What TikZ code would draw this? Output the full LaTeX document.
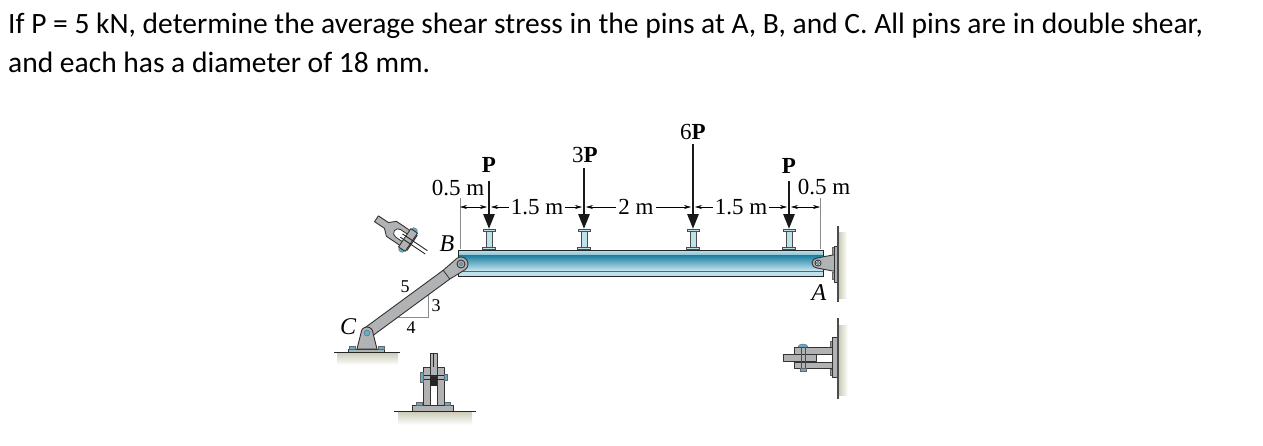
\documentclass[tikz,border=0pt]{standalone}
\usepackage{fontspec}
\usepackage{tikz}
\usetikzlibrary{arrows.meta}
\setmainfont{Liberation Serif}
\newfontfamily\titlefont{Carlito}
\definecolor{steelgray}{RGB}{176,178,180}
\definecolor{pinblue}{RGB}{95,175,210}
\definecolor{beamdark}{RGB}{25,125,160}
\definecolor{beamlight}{RGB}{190,225,236}
\definecolor{shadowtan}{RGB}{205,205,185}
\tikzset{
    lbl/.style={font=\fontsize{23}{23}\selectfont, inner sep=0pt},
    loadarrow/.style={line width=2.8pt, -{Triangle[length=15pt,width=11pt]}, black!90},
    dimline/.style={line width=0.5pt, {Stealth[length=7pt,width=4pt]}-{Stealth[length=7pt,width=4pt]}},
    dimhalf/.style={line width=0.5pt, -{Stealth[length=7pt,width=4pt]}},
    extline/.style={line width=0.6pt, black!45},
    steelpart/.style={draw=black!80, fill=steelgray, line width=0.9pt, line join=round},
    bluepart/.style={draw=black!60, fill=pinblue, line width=0.4pt},
}
\begin{document}
\begin{tikzpicture}[x=1pt,y=-1pt]
    \useasboundingbox (0,0) rectangle (1263,445);
    % problem statement
    \node[anchor=base west, inner sep=0pt, font=\fontsize{29.5}{29.5}\titlefont] (line1) at (8,33)
        {If P = 5 kN, determine the average shear stress in the pins at A, B, and C. All pins are in double shear,};
    \node[anchor=base west, inner sep=0pt, font=\fontsize{29.5}{29.5}\titlefont] (line2) at (8,72)
        {and each has a diameter of 18 mm.};
    % ground and wall shadows
    \shade[top color=shadowtan, bottom color=white] (337,353) rectangle (398,365);
    \shade[top color=shadowtan, bottom color=white] (398,412) rectangle (472,425);
    \shade[left color=shadowtan, right color=white] (839,232) rectangle (847,298);
    \shade[left color=shadowtan, right color=white] (839,325) rectangle (848,395);
    % beam
    \shade[top color=beamlight, bottom color=beamlight!70!beamdark] (458,250) rectangle (823,255);
    \shade[top color=beamdark, bottom color=beamlight] (458,255) rectangle (823,270);
    \fill[beamlight] (458,271) rectangle (823,276);
    \draw[beamdark, line width=0.6pt] (458,271) -- (823,271);
    \draw[black!85, line width=1pt] (458,250) rectangle (823,276);
    % I sections and loads
    \foreach \xpos/\ytop/\name in {489/181/Pa, 584/168/Pb, 693/144/Pc, 789/181/Pd} {
        \filldraw[fill=beamlight, draw=black!70, line width=0.7pt]
            (\xpos-3,231.5) rectangle (\xpos+3,247)
            (\xpos-6,229) rectangle (\xpos+6,231.5)
            (\xpos-6.5,247) rectangle (\xpos+6.5,249.5);
        \coordinate (\name) at (\xpos,207);
        \draw[loadarrow] (\xpos,\ytop) -- (\xpos,229);
    }
    \node[lbl, font=\fontsize{23}{23}\selectfont\bfseries] (loadA) at (489,165) {P};
    \node[lbl] (loadB) at (585,155) {3\textbf{P}};
    \node[lbl] (loadC) at (693,132) {6\textbf{P}};
    \node[lbl, font=\fontsize{23}{23}\selectfont\bfseries] (loadD) at (789,166) {P};
    % dimensions
    \coordinate (extB) at (460,207);
    \coordinate (extA) at (820,207);
    \draw[extline] (460,198) -- (460,249);
    \draw[extline] (820,198) -- (820,249);
    \node[lbl] (dimE) at (458,188) {0.5 m};
    \node[lbl] (dimA) at (537,207) {1.5 m};
    \node[lbl] (dimB) at (636,207) {2 m};
    \node[lbl] (dimC) at (741,207) {1.5 m};
    \node[lbl] (dimD) at (824,187) {0.5 m};
    \draw[dimline] (extB) -- ([xshift=-2pt]Pa);
    \draw[dimhalf] ([xshift=-2pt]dimA.west) -- ([xshift=2pt]Pa);
    \draw[dimhalf] ([xshift=2pt]dimA.east) -- ([xshift=-2pt]Pb);
    \draw[dimhalf] ([xshift=-2pt]dimB.west) -- ([xshift=2pt]Pb);
    \draw[dimhalf] ([xshift=2pt]dimB.east) -- ([xshift=-2pt]Pc);
    \draw[dimhalf] ([xshift=-2pt]dimC.west) -- ([xshift=2pt]Pc);
    \draw[dimhalf] ([xshift=2pt]dimC.east) -- ([xshift=-2pt]Pd);
    \draw[dimline] ([xshift=2pt]Pd) -- (extA);
    % slope triangle and letters
    \draw[extline] (395,317) -- (428,317) -- (428,293);
    \node[lbl, font=\fontsize{18}{18}\selectfont] (five) at (405,287) {5};
    \node[lbl, font=\fontsize{18}{18}\selectfont] (three) at (436,306) {3};
    \node[lbl, font=\fontsize{18}{18}\selectfont] (four) at (411,328) {4};
    \node[lbl, font=\fontsize{24}{24}\selectfont\itshape] (nameC) at (348,327) {C};
    \node[lbl, font=\fontsize{24}{24}\selectfont\itshape] (nameB) at (447,244) {B};
    \node[lbl, font=\fontsize{24}{24}\selectfont\itshape] (nameA) at (819,293) {A};
    % strut CB
    \coordinate (pinC) at (367,333);
    \coordinate (pinB) at (461,264);
    \begin{scope}[shift={(pinB)}, rotate=36.3]
        \draw[steelpart] (-116,-5.5) -- (-18,-5.5) -- (0,-7) arc[start angle=-90, end angle=90, radius=7] -- (-18,5.5) -- (-116,5.5) -- cycle;
        \draw[black!80, line width=0.8pt] (-18,-5.5) -- (-18,5.5);
    \end{scope}
    \filldraw[steelpart] (pinB) circle (4);
    \filldraw[bluepart] (pinB) circle (1.8);
    % bracket at C
    \draw[steelpart] (348,349) rectangle (384,352);
    \filldraw[bluepart] (349,346) rectangle (355,349) (378,346) rectangle (384,349);
    \draw[steelpart] (357,349) -- (361,333) arc[start angle=180, end angle=360, radius=6] -- (377,349) -- cycle;
    \filldraw[bluepart] (pinC) circle (3);
    \draw[black!85, line width=1pt] (334,352.5) -- (400,352.5);
    % clevis detail above the strut
    \begin{scope}[shift={(408,240)}, rotate=-34]
        \draw[steelpart] (-38,-3.5) -- (-26,-3.5) -- (-20,-9) -- (5,-9) -- (5,9) -- (-20,9) -- (-26,3.5) -- (-38,3.5) -- cycle;
        \filldraw[fill=white, draw=black!80, line width=0.8pt] (5,-4.5) -- (-12,-4.5) arc[start angle=-90, end angle=-270, radius=4.5] -- (5,4.5) -- cycle;
        \filldraw[bluepart] (0,-12) ellipse (3 and 2) (0,12) ellipse (3 and 2);
        \draw[steelpart] (-4,-11) rectangle (4,11);
        \draw[black!85, line width=0.9pt] (-8,-2) -- (22,-2) (-8,2) -- (22,2);
    \end{scope}
    % clevis at the bottom
    \draw[steelpart] (412,405) rectangle (453,411);
    \filldraw[bluepart] (416,402) rectangle (422,405) (444,402) rectangle (450,405);
    \draw[steelpart] (423,367) rectangle (430,405);
    \draw[steelpart] (437,367) rectangle (444,405);
    \fill[black!85] (430,376) rectangle (437,386);
    \draw[steelpart] (430,353) rectangle (437,376);
    \draw[black!85, line width=0.7pt] (433.5,353) -- (433.5,367) (423,375) -- (444,375) (423,379) -- (444,379);
    \filldraw[bluepart] (420,372) rectangle (423,382) (444,374) rectangle (447,380);
    \draw[black!85, line width=1pt] (394,411) -- (476,411);
    % bracket at A
    \draw[steelpart] (838,254) -- (817,258) arc[start angle=-90, end angle=-270, radius=5] -- (838,272) -- cycle;
    \draw[black!85, line width=0.8pt, fill=white] (818,263) circle (3);
    \filldraw[bluepart] (818,263) circle (1.8);
    \filldraw[bluepart] (832,247) rectangle (834.5,254) (832,272) rectangle (834.5,279);
    \draw[steelpart] (834,246) rectangle (838,282);
    \draw[black!70, line width=1.2pt] (838,226) -- (838,302);
    % clevis beside the wall
    \filldraw[bluepart] (830,341) rectangle (832,347) (830,369) rectangle (832,375);
    \draw[steelpart] (832,337) rectangle (838,377);
    \draw[steelpart] (794,347) rectangle (832,354);
    \draw[steelpart] (794,362) rectangle (832,368);
    \draw[steelpart] (783,354.5) rectangle (816,361);
    \draw[black!70, line width=0.6pt] (801,347) -- (801,368) (805,347) -- (805,368);
    \filldraw[bluepart] (798,347) arc[start angle=180, end angle=360, x radius=5, y radius=3] -- cycle;
    \filldraw[bluepart] (800,368) rectangle (806,371);
    \draw[black!70, line width=1.2pt] (838,318) -- (838,399);
\end{tikzpicture}
\end{document}
